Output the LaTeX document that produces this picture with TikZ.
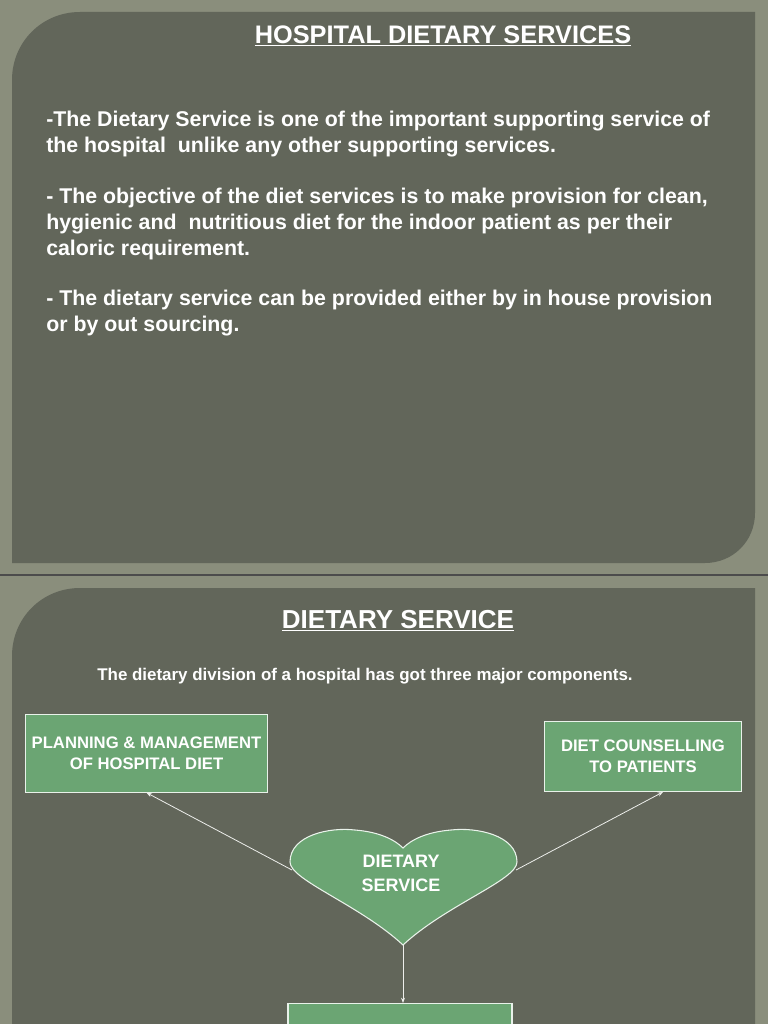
\documentclass[tikz,border=0pt]{standalone}
\usepackage{fontspec}
\setmainfont{Liberation Sans}
\usetikzlibrary{arrows.meta}
\definecolor{frame}{HTML}{8A8E7C}
\definecolor{panel}{HTML}{62665A}
\definecolor{boxg}{HTML}{6BA573}
\tikzset{
 body/.style={anchor=north west,align=left,font=\bfseries\fontsize{16}{19.5}\selectfont,text=white,inner sep=0},
 gbox/.style={draw=white!85!boxg,fill=boxg,line width=0.8pt,text=white,align=center,font=\bfseries\fontsize{12.5}{16}\selectfont},
 conn/.style={draw=white!85!frame,line width=0.6pt,-{Stealth[length=4pt,width=3pt]}}
}
\begin{document}
\begin{tikzpicture}[x=0.75pt,y=-0.75pt]
\useasboundingbox (0,0) rectangle (768,1024);
\fill[frame] (0,0) rectangle (768,1024);
\draw[black!70,line width=1.2pt] (0,575) -- (768,575);
% top panel
\fill[panel] (12,80) .. controls (12,42) and (42,12) .. (80,12) -- (755,12) -- (755,513) .. controls (755,541) and (733,563) .. (705,563) -- (12,563) -- cycle;
% bottom panel
\fill[panel] (12,656) .. controls (12,618) and (42,588) .. (80,588) -- (755,588) -- (755,1024) -- (12,1024) -- cycle;
\node[text=white,font=\bfseries\fontsize{19}{22}\selectfont] (t1) at (443,36) {\underline{HOSPITAL DIETARY SERVICES}};
\node[body] (p1) at (46,111) {-The Dietary Service is one of the important supporting service of\\the hospital\ \ unlike any other supporting services.};
\node[body] (p2) at (46,188) {- The objective of the diet services is to make provision for clean,\\hygienic and\ \ nutritious diet for the indoor patient as per their\\caloric requirement.};
\node[body] (p3) at (46,290) {- The dietary service can be provided either by in house provision\\or by out sourcing.};
\node[text=white,font=\bfseries\fontsize{19.5}{22}\selectfont] (t2) at (398,621) {\underline{DIETARY SERVICE}};
\node[text=white,font=\bfseries\fontsize{12.7}{15}\selectfont] (sub) at (365,676) {The dietary division of a hospital has got three major components.};
\node[gbox,minimum width=182pt,minimum height=58pt] (L) at (146.5,753.5) {PLANNING \& MANAGEMENT\\OF HOSPITAL DIET};
\node[gbox,minimum width=148pt,minimum height=53pt] (R) at (643,756.5) {DIET COUNSELLING\\TO PATIENTS};
\node[gbox,minimum width=168pt,minimum height=30pt,anchor=north] (B) at (400,1003) {};
% heart
\draw[fill=boxg,draw=white!85!boxg,line width=0.8pt] (403,945) .. controls (360,905) and (290,880) .. (290,862)
  .. controls (290,835) and (330,827) .. (355,830) .. controls (380,832) and (395,840) .. (403,848)
  .. controls (411,840) and (426,832) .. (451,830) .. controls (476,827) and (517,835) .. (517,862)
  .. controls (517,880) and (446,905) .. (403,945) -- cycle;
\coordinate (hl) at (292,870);
\coordinate (hr) at (516,870);
\coordinate (hb) at (403,945);
\node[text=white,align=center,font=\bfseries\fontsize{13.5}{18}\selectfont] (H) at (401,873) {DIETARY\\SERVICE};
\draw[conn] (hl) -- (L.south);
\draw[conn] (hr) -- (663,792);
\draw[conn] (hb) -- (B.north -| hb);
\end{tikzpicture}
\end{document}
